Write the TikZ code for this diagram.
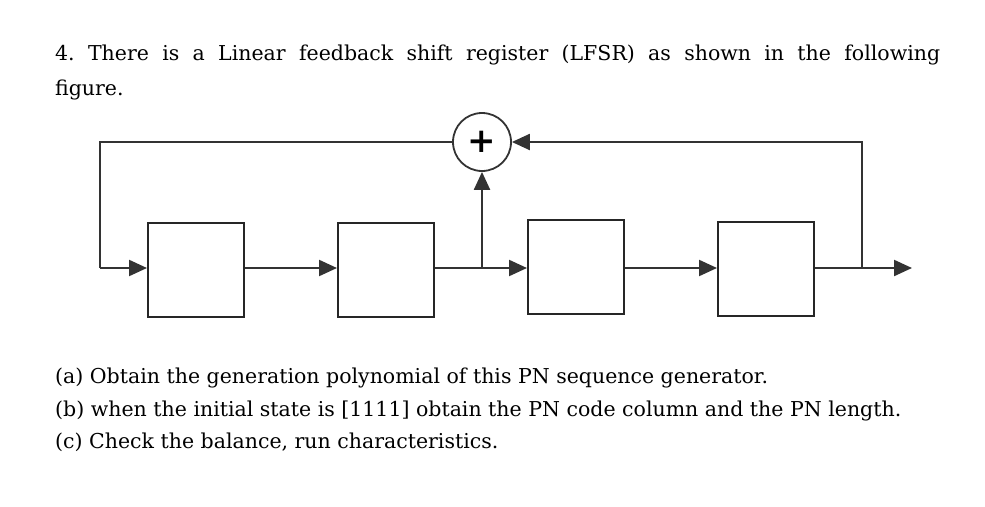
\documentclass[tikz,border=0pt]{standalone}
\usepackage{fontspec}
\setmainfont{DejaVu Serif}
\usetikzlibrary{arrows.meta}
\begin{document}
\frenchspacing
\begin{tikzpicture}[x=1pt,y=-1pt,
  reg/.style={draw=black!85,line width=2pt,minimum width=96pt,minimum height=94pt,inner sep=0},
  ln/.style={draw=black!80,line width=2.2pt},
  arr/.style={ln,-{Triangle[length=18pt,width=16pt]}},
  txt/.style={anchor=base west,inner sep=0,font=\fontsize{20.5}{22}\selectfont}]
\useasboundingbox (0,0) rectangle (985,506);
\node[txt] (t1) at (55,60) {\hbox to 885pt{4. There is a Linear feedback shift register (LFSR) as shown in the following}};
\node[txt] (t2) at (55,95) {figure.};
\node[reg] (r1) at (196,270) {};
\node[reg] (r2) at (386,270) {};
\node[reg] (r3) at (576,267) {};
\node[reg] (r4) at (766,269) {};
\node[circle,draw=black!80,line width=1.8pt,minimum size=58pt,inner sep=0,font=\fontsize{34}{34}\selectfont\bfseries] (x) at (482,142) {+};
\coordinate (j) at (482,268);
\coordinate (lt) at (100,142);
\coordinate (lb) at (100,268);
\coordinate (rt) at (862,142);
\coordinate (rb) at (862,268);
\coordinate (out) at (912,268);
\draw[ln] (x.west) -- (lt) -- (lb);
\draw[arr] (lb) -- (r1.west|-lb);
\draw[arr] (r1.east|-lb) -- (r2.west|-lb);
\draw[ln] (r2.east|-j) -- (j);
\draw[arr] (j) -- (r3.west|-j);
\draw[arr] (j) -- (x.south);
\draw[arr] (r3.east|-j) -- (r4.west|-j);
\draw[ln] (r4.east|-rb) -- (rb);
\draw[arr] (rb) -- (out);
\draw[arr] (rb) -- (rt) -- (x.east);
\node[txt] (a) at (55,383) {(a) Obtain the generation polynomial of this PN sequence generator.};
\node[txt] (b) at (55,416) {(b) when the initial state is [1111] obtain the PN code column and the PN length.};
\node[txt] (c) at (55,448) {(c) Check the balance, run characteristics.};
\end{tikzpicture}
\end{document}
